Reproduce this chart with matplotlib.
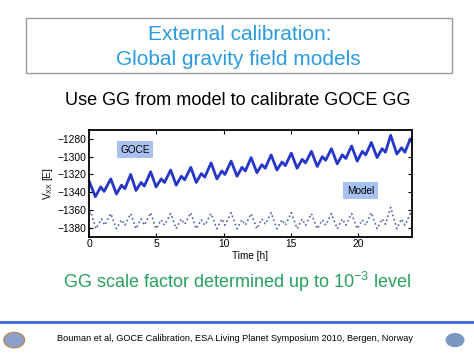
import matplotlib
matplotlib.use('Agg')
import matplotlib.pyplot as plt
from matplotlib.patches import Rectangle, Circle
from matplotlib.lines import Line2D

plt.rcParams['font.family'] = ['Liberation Sans', 'DejaVu Sans']

# GOCE gradiometer Vxx
goce_t = [0.0, 0.45, 0.85, 1.1, 1.6, 2.02, 2.4, 2.65, 3.08, 3.48, 3.85, 4.1,
          4.57, 4.97, 5.35, 5.6, 6.06, 6.47, 6.85, 7.1, 7.56, 7.96, 8.34, 8.6,
          9.07, 9.5, 9.87, 10.1, 10.56, 11.0, 11.37, 11.62, 12.05, 12.48, 12.85, 13.1,
          13.54, 13.97, 14.35, 14.6, 15.04, 15.47, 15.85, 16.1, 16.54, 16.97, 17.35, 17.6,
          18.03, 18.46, 18.84, 19.1, 19.53, 19.95, 20.33, 20.58, 21.0, 21.43, 21.8, 22.05,
          22.44, 22.9, 23.25, 23.5, 23.9, 24.0]
goce_v = [-1328, -1345, -1334, -1339, -1325, -1342, -1332, -1336, -1320, -1338, -1329, -1333,
          -1317, -1334, -1325, -1329, -1315, -1332, -1322, -1326, -1312, -1329, -1319, -1323,
          -1307, -1325, -1316, -1320, -1305, -1322, -1312, -1316, -1301, -1318, -1309, -1313,
          -1298, -1315, -1306, -1310, -1296, -1313, -1303, -1307, -1294, -1311, -1300, -1304,
          -1291, -1308, -1298, -1302, -1288, -1305, -1294, -1298, -1284, -1301, -1291, -1295,
          -1276, -1297, -1290, -1295, -1280, -1282]

# model Vxx
model_t = [0.0, 0.1, 0.5, 0.9, 1.15, 1.6, 2.02, 2.4, 2.65, 3.08, 3.48, 3.85, 4.1,
           4.57, 4.97, 5.35, 5.6, 6.06, 6.47, 6.85, 7.1, 7.56, 7.96, 8.34, 8.6,
           9.07, 9.5, 9.87, 10.1, 10.56, 11.0, 11.37, 11.62, 12.05, 12.48, 12.85, 13.1,
           13.54, 13.97, 14.35, 14.6, 15.04, 15.47, 15.85, 16.1, 16.54, 16.97, 17.35, 17.6,
           18.03, 18.46, 18.84, 19.1, 19.53, 19.95, 20.33, 20.58, 21.0, 21.43, 21.8, 22.05,
           22.44, 22.9, 23.25, 23.5, 23.9, 24.0]
model_v = [-1364, -1362, -1381, -1370, -1377, -1364, -1381, -1371, -1377, -1364, -1381, -1370, -1377,
           -1363, -1381, -1371, -1377, -1364, -1381, -1370, -1376, -1363, -1381, -1371, -1377,
           -1364, -1381, -1370, -1377, -1363, -1381, -1371, -1377, -1364, -1381, -1370, -1376,
           -1363, -1381, -1371, -1377, -1363, -1381, -1370, -1377, -1364, -1381, -1371, -1377,
           -1364, -1381, -1370, -1377, -1364, -1381, -1371, -1377, -1363, -1381, -1370, -1376,
           -1357, -1381, -1370, -1377, -1364, -1366]

xticks = [0, 5, 10, 15, 20]
yticks = [-1380, -1360, -1340, -1320, -1300, -1280]

fig = plt.figure(figsize=(4.74, 3.55), dpi=100)

# title box
fig.patches.append(Rectangle((0.0549, 0.7935), 0.8987, 0.155, transform=fig.transFigure,
                             fill=False, edgecolor='#9a9a9a', lw=1.0))
fig.text(0.506, 0.904, 'External calibration:', ha='center', va='center',
         fontsize=15, color='#2b9be0')
fig.text(0.5035, 0.831, 'Global gravity field models', ha='center', va='center',
         fontsize=15, color='#2b9be0')
fig.text(0.502, 0.7155, 'Use GG from model to calibrate GOCE GG', ha='center', va='center',
         fontsize=13.1, color='black')

# the chart
ax = fig.add_axes([0.1884, 0.3332, 0.680, 0.3006])
ax.plot(goce_t, goce_v, color='#2536c8', lw=2.0, solid_joinstyle='round')
ax.plot(model_t, model_v, color='#5560aa', lw=1.2, ls=':')
ax.set_xlim(0, 24)
ax.set_ylim(-1390, -1270)
ax.set_xticks(xticks)
ax.set_yticks(yticks)
ax.set_yticklabels(['\u2212' + str(abs(v)) for v in yticks])
ax.tick_params(direction='in', top=True, right=True, length=3, width=0.8,
               labelsize=7.4, pad=2)
for s in ax.spines.values():
    s.set_linewidth(1.3)
ax.set_xlabel('Time [h]', fontsize=7.2, labelpad=1)
ax.set_ylabel(r'V$_{\mathregular{XX}}$ [E]', fontsize=7.2, labelpad=2)

box = dict(boxstyle='square,pad=0.35', facecolor='#a9c1f0', edgecolor='none')
ax.text(3.4, -1292, 'GOCE', ha='center', va='center', fontsize=7.2, bbox=box)
ax.text(20.2, -1338.5, 'Model', ha='center', va='center', fontsize=7.2, bbox=box)

fig.text(0.501, 0.2065, r'GG scale factor determined up to 10$^{\mathregular{-3}}$ level',
         ha='center', va='center', fontsize=13, color='#27a05e')

# footer
fig.lines.append(Line2D([0, 1], [0.092, 0.092], transform=fig.transFigure,
                        color='#3f68d8', lw=2))
fig.text(0.496, 0.047,
         'Bouman et al, GOCE Calibration, ESA Living Planet Symposium 2010, Bergen, Norway',
         ha='center', va='center', fontsize=6.6, color='black')
fig.patches.append(Circle((0.03, 0.042), 0.022, transform=fig.transFigure,
                          facecolor='#8aa0c8', edgecolor='#c08040', lw=0.8))
fig.patches.append(Circle((0.96, 0.042), 0.02, transform=fig.transFigure,
                          facecolor='#7a98c0', edgecolor='none'))

fig.savefig('out.png', dpi=100)
